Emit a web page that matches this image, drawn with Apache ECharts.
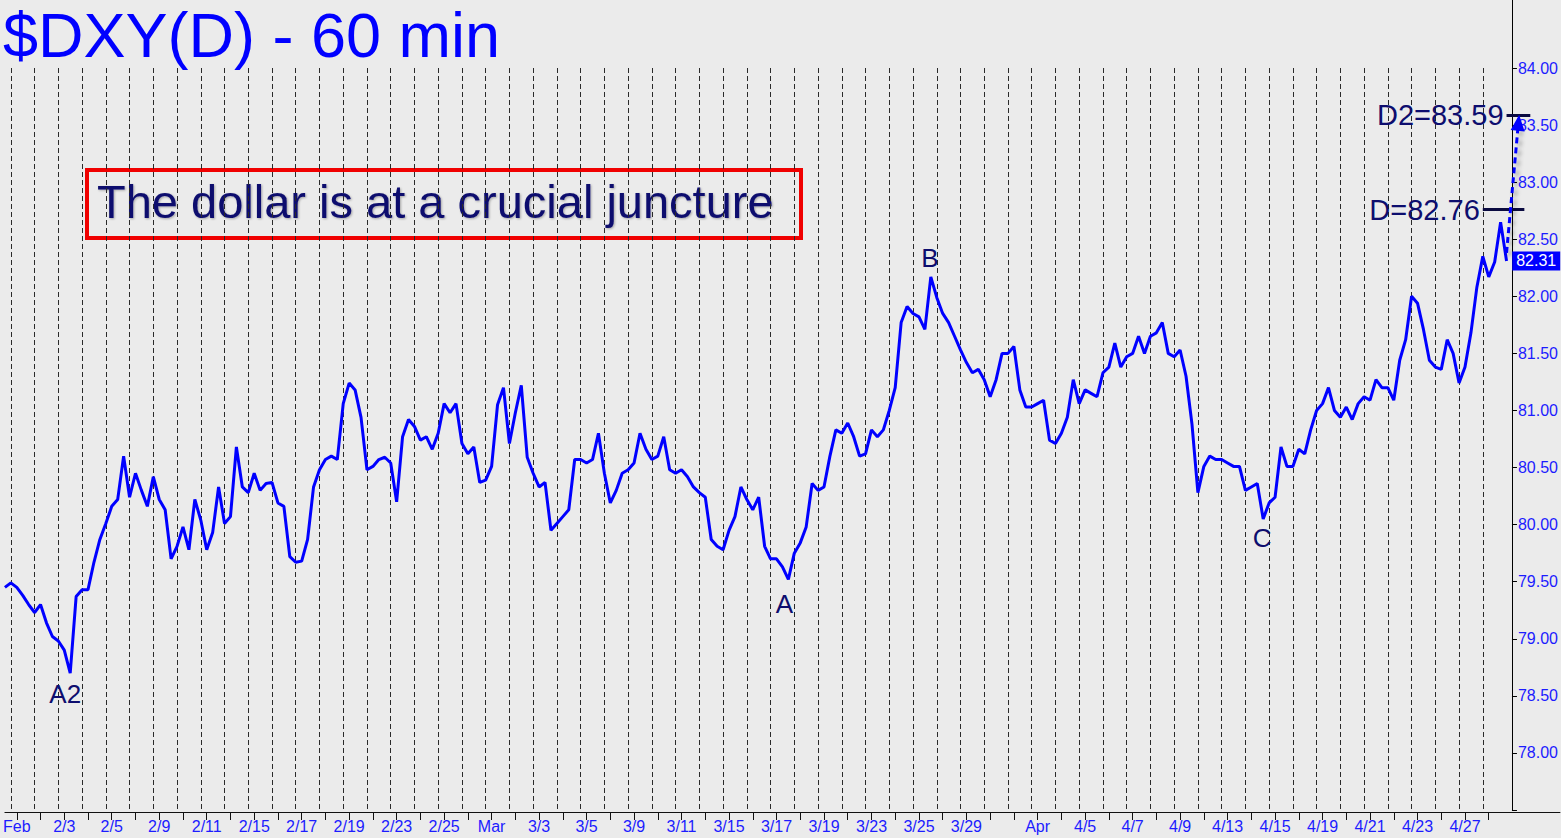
<!DOCTYPE html>
<html>
<head>
<meta charset="utf-8">
<script src="https://cdn.jsdelivr.net/npm/echarts@6/dist/echarts.min.js"></script>
<style>
html,body{margin:0;padding:0;background:#ebebeb;}
#chart{width:1561px;height:838px;}
</style>
</head>
<body>
<div id="chart"></div>
<script>
// ---- data ----
const chartTitle = '$DXY(D) - 60 min';
const boxNote = 'The dollar is at a crucial juncture';
// one entry per trading day (tick label, '' = unlabeled tick)
const dayLabels = ['Feb','','2/3','','2/5','','2/9','','2/11','','2/15','','2/17','','2/19','','2/23','','2/25','',
  'Mar','','3/3','','3/5','','3/9','','3/11','','3/15','','3/17','','3/19','','3/23','','3/25','','3/29','','',
  'Apr','','4/5','','4/7','','4/9','','4/13','','4/15','','4/19','','4/21','','4/23','','4/27',''];
const slotsPerDay = 4;
const totalSlots = 263;
// price sampled four times per trading day
const prices = [
79.45,79.49,79.45,79.38,79.30,79.23,79.30,79.14,79.02,78.98,78.90,78.70,79.37,79.43,79.43,79.67,79.87,80.01,80.16,80.22,
80.60,80.24,80.45,80.30,80.16,80.42,80.22,80.13,79.70,79.81,79.98,79.78,80.22,80.04,79.78,79.93,80.33,80.01,80.07,80.68,
80.33,80.28,80.45,80.30,80.36,80.37,80.19,80.16,79.72,79.67,79.68,79.87,80.33,80.48,80.57,80.60,80.57,81.06,81.24,81.18,
80.94,80.48,80.51,80.57,80.59,80.54,80.20,80.77,80.92,80.86,80.74,80.77,80.66,80.80,81.06,80.98,81.06,80.71,80.62,80.68,
80.37,80.39,80.51,81.05,81.20,80.71,80.98,81.22,80.59,80.45,80.33,80.37,79.95,80.01,80.07,80.13,80.57,80.57,80.54,80.57,
80.80,80.45,80.19,80.30,80.45,80.48,80.54,80.80,80.66,80.57,80.60,80.77,80.48,80.45,80.48,80.42,80.33,80.28,80.24,79.87,
79.81,79.78,79.95,80.07,80.33,80.22,80.13,80.24,79.81,79.70,79.70,79.63,79.52,79.75,79.84,79.98,80.36,80.30,80.33,80.60,
80.83,80.80,80.89,80.77,80.60,80.62,80.83,80.77,80.83,81.00,81.20,81.77,81.91,81.85,81.82,81.71,82.17,81.99,81.85,81.77,
81.65,81.53,81.42,81.33,81.36,81.27,81.12,81.27,81.50,81.50,81.56,81.18,81.03,81.03,81.06,81.09,80.74,80.71,80.80,80.94,
81.27,81.06,81.18,81.15,81.12,81.33,81.38,81.59,81.38,81.47,81.50,81.65,81.50,81.65,81.68,81.77,81.50,81.47,81.53,81.30,
80.88,80.28,80.51,80.60,80.57,80.57,80.54,80.51,80.51,80.30,80.33,80.36,80.05,80.19,80.24,80.68,80.51,80.51,80.66,80.62,
80.83,81.00,81.06,81.20,81.00,80.94,81.03,80.92,81.06,81.12,81.09,81.27,81.20,81.20,81.09,81.44,81.62,82.00,81.94,81.71,
81.44,81.38,81.36,81.62,81.50,81.24,81.38,81.68,82.08,82.35,82.17,82.30,82.65,82.31
];
const lastPrice = 82.31;
const targetNames = ['D2','D'];
const targetValues = [83.59, 82.76];
const targetSlots = [[253,257],[249,256]];
const projectionSlots = [253, 255];
const projectionValues = [82.38, 83.52];
const waveNames = ['A2','A','B','C'];
const waveSlots = [11, 132, 156, 212];
const waveValues = [78.70, 79.52, 82.17, 80.05];
const priceBoxSlot = 258;
const yMin = 77.5, yMax = 84, yStep = 0.5;

// ---- styles ----
const FONT = '"Liberation Sans", Arial, sans-serif';
const BLUE = '#0000ff';
const LABEL_BLUE = '#1c1cff';
const NAVY = '#0d0d6e';
const waveOffsets = [[-5,21],[-4,25],[-1,-19],[-1,19]];

const categories = Array.from({length: totalSlots}, (_, i) => String(i));
const isTickSlot = i => i % slotsPerDay === 2 && (i - 2) / slotsPerDay < dayLabels.length;
const isDayStart = i => i % slotsPerDay === 1 && (i - 1) / slotsPerDay < dayLabels.length;

const markPoints = waveNames.map((n, i) => ({
  name: n,
  coord: [waveSlots[i], waveValues[i]],
  symbol: 'circle', symbolSize: 1,
  itemStyle: {color: 'rgba(0,0,0,0)'},
  label: {show: true, position: 'inside', offset: waveOffsets[i], formatter: n,
          color: NAVY, fontSize: 26, fontFamily: FONT}
}));
markPoints.push({
  name: 'last',
  coord: [priceBoxSlot, lastPrice],
  symbol: 'rect', symbolSize: [48, 19],
  itemStyle: {color: BLUE},
  label: {show: true, position: 'inside', formatter: lastPrice.toFixed(2),
          color: '#ffffff', fontSize: 16, fontFamily: FONT}
});

const markLines = targetNames.map((n, i) => [
  {coord: [targetSlots[i][0], targetValues[i]], symbol: 'none',
   lineStyle: {color: '#0a0a40', width: 3, type: 'solid'},
   label: {show: true, position: 'start', distance: 3, formatter: n + '=' + targetValues[i].toFixed(2),
           color: NAVY, fontSize: 29, fontFamily: FONT}},
  {coord: [targetSlots[i][1], targetValues[i]], symbol: 'none'}
]);
markLines.push([
  {coord: [projectionSlots[0], projectionValues[0]], symbol: 'none',
   lineStyle: {color: BLUE, width: 3, type: [6, 4], shadowColor: 'rgba(0,0,0,0.35)', shadowBlur: 4, shadowOffsetX: 3, shadowOffsetY: 3},
   label: {show: false}},
  {coord: [projectionSlots[1], projectionValues[1]], symbol: 'triangle', symbolSize: [14, 16]}
]);

const chart = echarts.init(document.getElementById('chart'), null, {renderer: 'svg'});
chart.setOption({
  animation: false,
  backgroundColor: '#ebebeb',
  title: {
    text: chartTitle, left: 3, top: 3, padding: 0,
    textStyle: {color: BLUE, fontSize: 63, fontWeight: 'normal', fontFamily: FONT}
  },
  grid: {left: 1, right: 1, top: 68, bottom: 28, containLabel: false},
  xAxis: {
    type: 'category', data: categories, boundaryGap: false, offset: 2,
    axisLine: {show: true, lineStyle: {color: '#111', width: 1}},
    axisTick: {show: true, length: 8, interval: (i) => isTickSlot(i), lineStyle: {color: '#111'}},
    axisLabel: {
      show: true, margin: 6, color: LABEL_BLUE, fontSize: 16, fontFamily: FONT,
      interval: (i) => isTickSlot(i) && dayLabels[(i - 2) / slotsPerDay] !== '',
      formatter: (v, i) => isTickSlot(i) ? dayLabels[(i - 2) / slotsPerDay] : ''
    },
    splitLine: {show: true, interval: (i) => isDayStart(i), lineStyle: {color: '#2a2a2a', width: 1, type: [5, 3]}}
  },
  yAxis: {
    type: 'value', position: 'right', offset: -48,
    min: yMin, max: yMax, interval: yStep,
    axisLine: {show: true, lineStyle: {color: '#000', width: 1}},
    axisTick: {show: true, length: 5, lineStyle: {color: '#000'}},
    axisLabel: {show: true, margin: 6, color: LABEL_BLUE, fontSize: 16, fontFamily: FONT,
      formatter: v => (v <= yMin ? '' : v.toFixed(2))},
    splitLine: {show: false}
  },
  graphic: [
    {type: 'line', shape: {x1: 1512.5, y1: 0, x2: 1512.5, y2: 68}, style: {stroke: '#000', lineWidth: 1}},
    {type: 'rect', shape: {x: 87, y: 170, width: 714, height: 68},
     style: {fill: 'none', stroke: '#f00000', lineWidth: 4}},
    {type: 'text', left: 97, top: 178,
     style: {text: boxNote, fill: NAVY, font: '47px ' + FONT,
             textShadowColor: 'rgba(0,0,0,0.3)', textShadowBlur: 2, textShadowOffsetX: 1, textShadowOffsetY: 1}}
  ],
  series: [{
    type: 'line', data: prices, showSymbol: false, symbol: 'none',
    lineStyle: {color: BLUE, width: 3}, z: 3,
    markPoint: {silent: true, data: markPoints},
    markLine: {silent: true, symbol: ['none', 'none'], data: markLines}
  }]
});
</script>
</body>
</html>
